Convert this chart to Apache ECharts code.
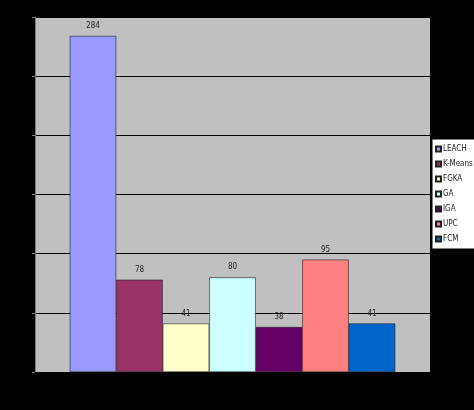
<!DOCTYPE html>
<html>
<head>
<meta charset="utf-8">
<script src="https://cdn.jsdelivr.net/npm/echarts@6/dist/echarts.min.js"></script>
<style>
  html, body { margin: 0; padding: 0; background: #000; }
  #chart { width: 474px; height: 410px; }
</style>
</head>
<body>
<div id="chart"></div>
<script>
// data
var methods = ['LEACH', 'K-Means', 'FGKA', 'GA', 'IGA', 'UPC', 'FCM'];
var values = [284, 78, 41, 80, 38, 95, 41];
var colors = ['#9999FF', '#993366', '#FFFFCC', '#CCFFFF', '#660066', '#FF8080', '#0066CC'];
var yTicks = [0, 50, 100, 150, 200, 250, 300];

var narrowFont = 'DejaVu Sans Condensed, Liberation Sans Narrow, Arial Narrow, sans-serif';

var chart = echarts.init(document.getElementById('chart'));

// one bar series per method, all in the same (empty) category
var series = methods.map(function (name, i) {
  return {
    name: name,
    type: 'bar',
    data: [values[i]],
    barWidth: 46.5,
    barGap: '0%',
    itemStyle: { color: colors[i], borderColor: '#222', borderWidth: 0.6 },
    label: {
      show: true,
      position: 'top',
      distance: 6,
      color: '#222',
      fontSize: 8,
      fontFamily: narrowFont
    }
  };
});

var option = {
  backgroundColor: '#000',
  animation: false,
  grid: {
    left: 35, right: 44, top: 17, bottom: 38,
    show: true,
    backgroundColor: '#C0C0C0',
    borderWidth: 0
  },
  legend: {
    orient: 'vertical',
    left: 432,
    top: 139,
    data: methods,
    backgroundColor: '#fff',
    borderColor: '#000',
    borderWidth: 1,
    padding: [6, 4, 6, 3],
    itemWidth: 5,
    itemHeight: 5,
    itemGap: 7,
    icon: 'rect',
    textStyle: {
      color: '#222',
      fontSize: 8,
      padding: [0, 0, 0, -3],
      fontFamily: narrowFont
    }
  },
  xAxis: {
    type: 'category',
    data: [''],
    axisLine: { lineStyle: { color: '#000' } },
    axisTick: { show: false },
    axisLabel: { show: false }
  },
  yAxis: {
    type: 'value',
    min: yTicks[0],
    max: yTicks[yTicks.length - 1],
    interval: yTicks[1] - yTicks[0],
    axisLine: { show: true, lineStyle: { color: '#808080' } },
    axisTick: { show: true, length: 3, lineStyle: { color: '#808080' } },
    axisLabel: { color: '#000', fontSize: 9 },
    splitLine: { lineStyle: { color: '#000', width: 1 } }
  },
  series: series
};

chart.setOption(option);
</script>
</body>
</html>
